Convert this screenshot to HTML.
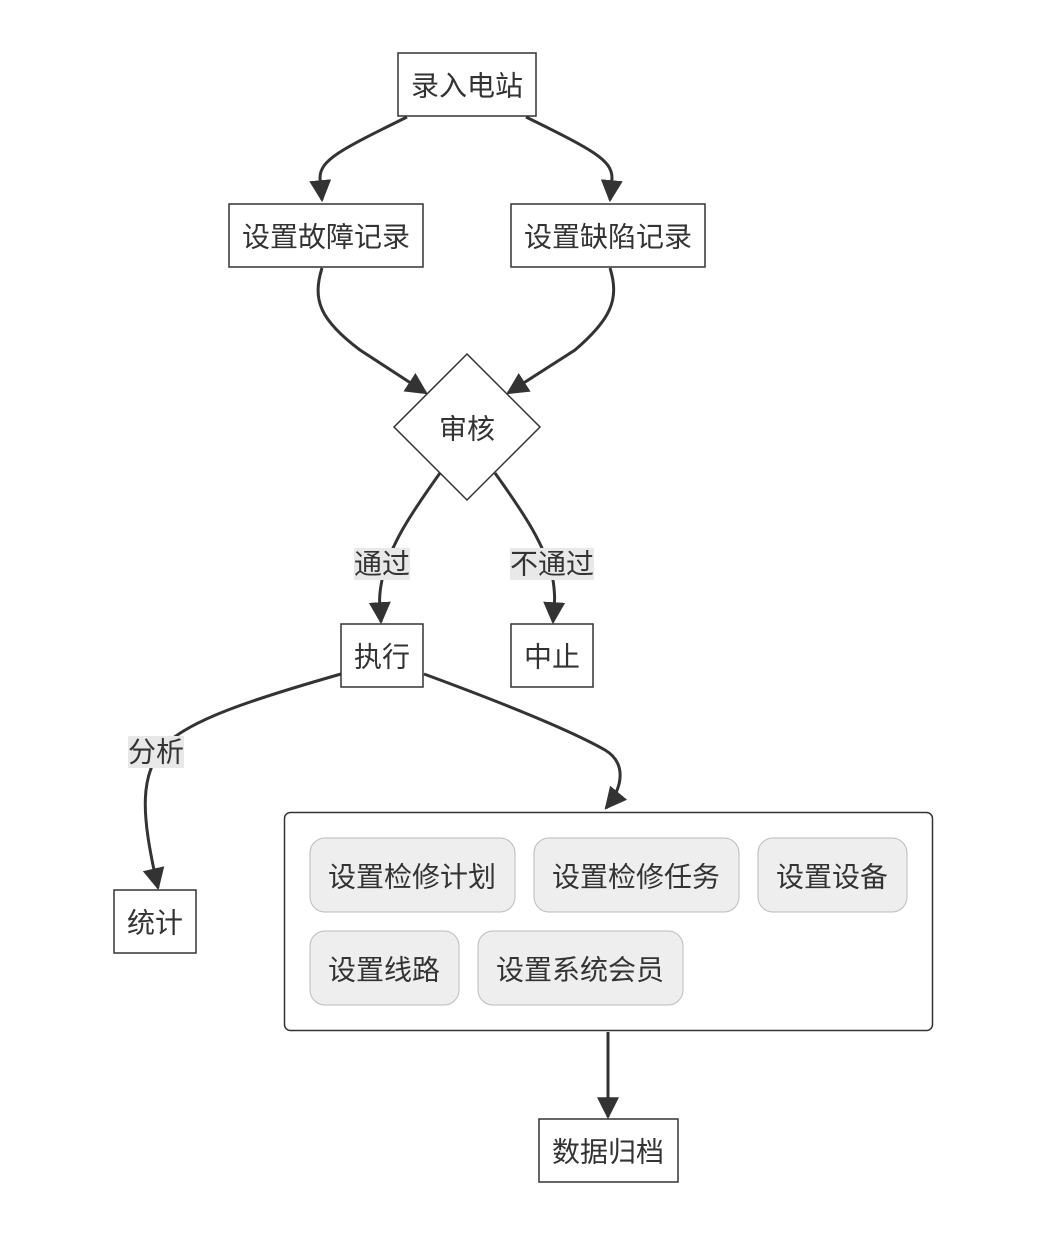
<!DOCTYPE html>
<html><head><meta charset="utf-8"><style>
html,body{margin:0;padding:0;background:#fff;}
svg text{font-family:"Liberation Sans","Noto Sans CJK SC",sans-serif;font-size:28px;fill:#333;text-anchor:middle;dominant-baseline:central;}
</style></head><body>
<svg width="1046" height="1239" viewBox="0 0 1046 1239" xmlns="http://www.w3.org/2000/svg">
<defs>
<marker id="b" viewBox="0 0 10 10" refX="9" refY="5" markerWidth="22" markerHeight="22" markerUnits="userSpaceOnUse" orient="auto"><path d="M0,0 L10,5 L0,10 z" fill="#333"/></marker>
</defs>
<g fill="none" stroke="#333" stroke-width="3">
<path d="M407,117 C340,150 320,160 320,178 L322,200" marker-end="url(#b)"/>
<path d="M526,117 C593,150 612,160 612,178 L610,200" marker-end="url(#b)"/>
<path d="M322,268 C312,300 320,320 360,350 L426,393" marker-end="url(#b)"/>
<path d="M610,268 C620,300 610,320 575,350 L508,393" marker-end="url(#b)"/>
<path d="M440,473 C410,515 390,545 382,580 C378,600 380,605 381,622" marker-end="url(#b)"/>
<path d="M495,473 C525,515 545,545 553,580 C556,600 554,605 553,622" marker-end="url(#b)"/>
<path d="M341,674 C250,700 190,720 165,745 C140,775 140,810 158,888" marker-end="url(#b)"/>
<path d="M424,674 C500,702 570,730 605,750 C625,762 625,785 606,808" marker-end="url(#b)"/>
<path d="M608,1032 L608,1117" marker-end="url(#b)"/>
</g>
<g fill="#fff" stroke="#333" stroke-width="1.5">
<rect x="398" y="53" width="138" height="63"/>
<rect x="229" y="204" width="194" height="63"/>
<rect x="511" y="204" width="194" height="63"/>
<polygon points="467,354 540,427 467,500 394,427"/>
<rect x="341" y="624" width="82" height="63"/>
<rect x="511" y="624" width="82" height="63"/>
<rect x="114" y="890" width="82" height="63"/>
<rect x="284.5" y="812.5" width="648" height="218" rx="6"/>
<rect x="539" y="1119" width="139" height="63"/>
</g>
<g fill="#eee" stroke="#bbb" stroke-width="1">
<rect x="310" y="838" width="205" height="74" rx="15"/>
<rect x="534" y="838" width="205" height="74" rx="15"/>
<rect x="758" y="838" width="149" height="74" rx="15"/>
<rect x="310" y="931" width="149" height="74" rx="15"/>
<rect x="478" y="931" width="205" height="74" rx="15"/>
</g>
<g fill="#e8e8e8">
<rect x="354" y="548" width="56" height="32"/>
<rect x="510" y="548" width="84" height="32"/>
<rect x="128" y="736" width="56" height="32"/>
</g>
<text x="467" y="86">录入电站</text>
<text x="326" y="237">设置故障记录</text>
<text x="608" y="237">设置缺陷记录</text>
<text x="467" y="429">审核</text>
<text x="382" y="564">通过</text>
<text x="552" y="564">不通过</text>
<text x="382" y="657">执行</text>
<text x="552" y="657">中止</text>
<text x="156" y="752">分析</text>
<text x="155" y="923">统计</text>
<text x="412" y="877">设置检修计划</text>
<text x="636" y="877">设置检修任务</text>
<text x="832" y="877">设置设备</text>
<text x="384" y="970">设置线路</text>
<text x="580" y="970">设置系统会员</text>
<text x="608" y="1152">数据归档</text>
</svg>
</body></html>
